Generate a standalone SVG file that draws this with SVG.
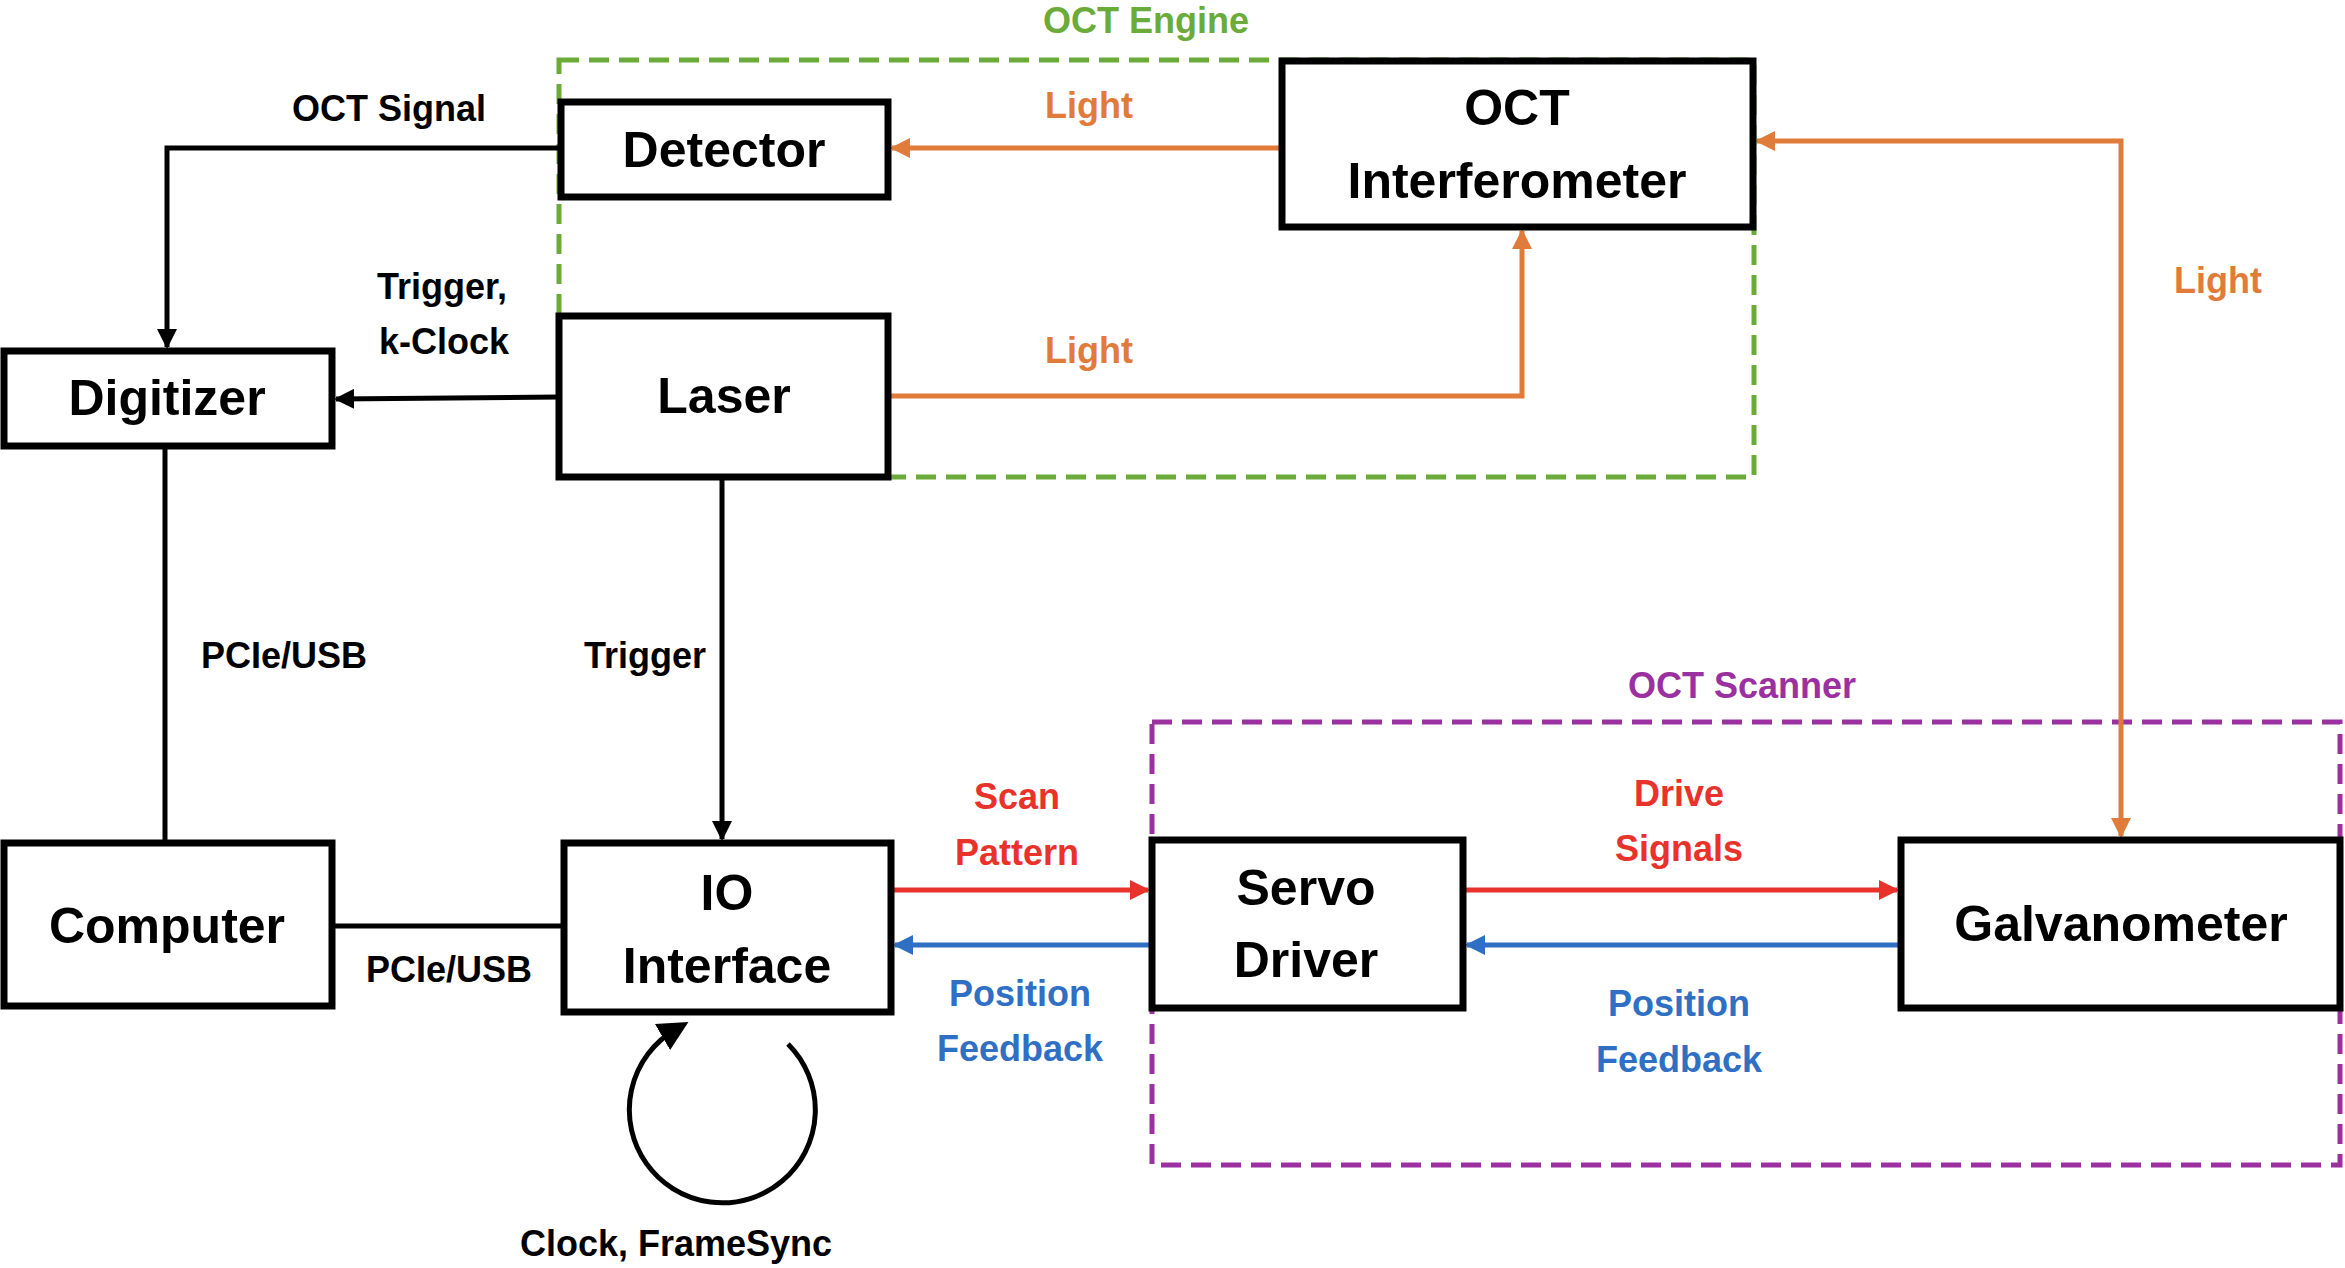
<svg xmlns="http://www.w3.org/2000/svg" width="2345" height="1268" viewBox="0 0 2345 1268">
<style>
.box{fill:#fff;stroke:#000;stroke-width:7}
.bt{font-family:"Liberation Sans",Arial,sans-serif;font-weight:bold;font-size:50px;text-anchor:middle;dominant-baseline:central}
.lb{font-family:"Liberation Sans",Arial,sans-serif;font-weight:bold;font-size:36px;text-anchor:middle;dominant-baseline:central}
.k{stroke:#000;stroke-width:5;fill:none}
.o{stroke:#E07B39;stroke-width:5;fill:none}
.r{stroke:#E8322A;stroke-width:5;fill:none}
.b{stroke:#2F6FC4;stroke-width:5;fill:none}
</style>
<defs>
<marker id="ak" viewBox="0 0 10 10" refX="9" refY="5" markerWidth="4" markerHeight="4" orient="auto-start-reverse"><path d="M0,0L10,5L0,10z" fill="#000"/></marker>
<marker id="ao" viewBox="0 0 10 10" refX="9" refY="5" markerWidth="4" markerHeight="4" orient="auto-start-reverse"><path d="M0,0L10,5L0,10z" fill="#E07B39"/></marker>
<marker id="ar" viewBox="0 0 10 10" refX="9" refY="5" markerWidth="4" markerHeight="4" orient="auto"><path d="M0,0L10,5L0,10z" fill="#E8322A"/></marker>
<marker id="ab" viewBox="0 0 10 10" refX="9" refY="5" markerWidth="4" markerHeight="4" orient="auto"><path d="M0,0L10,5L0,10z" fill="#2F6FC4"/></marker>
<marker id="ac" viewBox="0 0 10 10" refX="5" refY="5" markerWidth="6" markerHeight="6" orient="auto"><path d="M0,0L10,5L0,10z" fill="#000"/></marker>
</defs>
<rect x="0" y="0" width="2345" height="1268" fill="#fff"/>
<g id="groups">
<rect x="559" y="60" width="1195" height="417" fill="none" stroke="#6AAB3A" stroke-width="5" stroke-dasharray="20,10"/>
<text class="lb" x="1146" y="20" fill="#6AAB3A">OCT Engine</text>
<rect x="1152" y="722" width="1188" height="443" fill="none" stroke="#9B30A0" stroke-width="5" stroke-dasharray="20,10"/>
<text class="lb" x="1742" y="685" fill="#9B30A0">OCT Scanner</text>
</g>
<g id="connectors">
<path class="k" d="M561,148H167V347" marker-end="url(#ak)"/>
<path class="k" d="M559,397L336,399" marker-end="url(#ak)"/>
<path class="k" d="M165,446V843"/>
<path class="k" d="M722,477V839" marker-end="url(#ak)"/>
<path class="k" d="M332,926H564"/>
<path class="o" d="M1282,148H892" marker-end="url(#ao)"/>
<path class="o" d="M888,396H1522V231" marker-end="url(#ao)"/>
<path class="o" d="M1757,141H2121V836" marker-start="url(#ao)" marker-end="url(#ao)"/>
<path class="r" d="M891,890H1148" marker-end="url(#ar)"/>
<path class="b" d="M1152,945H895" marker-end="url(#ab)"/>
<path class="r" d="M1463,890H1897" marker-end="url(#ar)"/>
<path class="b" d="M1901,945H1467" marker-end="url(#ab)"/>
<path class="k" d="M788,1044A93,93 0 1 1 675.5,1029.5" stroke-width="6" marker-end="url(#ac)"/>
</g>
<g id="labels">
<text class="lb" x="389" y="108">OCT Signal</text>
<text class="lb" x="1089" y="105" fill="#E07B39">Light</text>
<text class="lb" x="442" y="286">Trigger,</text>
<text class="lb" x="444" y="341">k-Clock</text>
<text class="lb" x="1089" y="350" fill="#E07B39">Light</text>
<text class="lb" x="2218" y="280" fill="#E07B39">Light</text>
<text class="lb" x="284" y="655">PCIe/USB</text>
<text class="lb" x="645" y="655">Trigger</text>
<text class="lb" x="1017" y="796" fill="#E8322A">Scan</text>
<text class="lb" x="1017" y="852" fill="#E8322A">Pattern</text>
<text class="lb" x="1679" y="793" fill="#E8322A">Drive</text>
<text class="lb" x="1679" y="848" fill="#E8322A">Signals</text>
<text class="lb" x="1020" y="993" fill="#2F6FC4">Position</text>
<text class="lb" x="1020" y="1048" fill="#2F6FC4">Feedback</text>
<text class="lb" x="1679" y="1003" fill="#2F6FC4">Position</text>
<text class="lb" x="1679" y="1059" fill="#2F6FC4">Feedback</text>
<text class="lb" x="449" y="969">PCIe/USB</text>
<text class="lb" x="676" y="1243">Clock, FrameSync</text>
</g>
<g id="detector"><rect class="box" x="561" y="102" width="327" height="95"/><text class="bt" x="724" y="150">Detector</text></g>
<g id="interferometer"><rect class="box" x="1282" y="61" width="471" height="166"/><text class="bt" x="1517" y="108">OCT</text><text class="bt" x="1517" y="181">Interferometer</text></g>
<g id="digitizer"><rect class="box" x="4" y="351" width="328" height="95"/><text class="bt" x="167" y="398">Digitizer</text></g>
<g id="laser"><rect class="box" x="559" y="316" width="329" height="161"/><text class="bt" x="724" y="396">Laser</text></g>
<g id="computer"><rect class="box" x="4" y="843" width="328" height="163"/><text class="bt" x="167" y="926">Computer</text></g>
<g id="io"><rect class="box" x="564" y="843" width="327" height="169"/><text class="bt" x="727" y="893">IO</text><text class="bt" x="727" y="966">Interface</text></g>
<g id="servo"><rect class="box" x="1152" y="840" width="311" height="168"/><text class="bt" x="1306" y="888">Servo</text><text class="bt" x="1306" y="960">Driver</text></g>
<g id="galvo"><rect class="box" x="1901" y="840" width="439" height="168"/><text class="bt" x="2121" y="924">Galvanometer</text></g>
</svg>
